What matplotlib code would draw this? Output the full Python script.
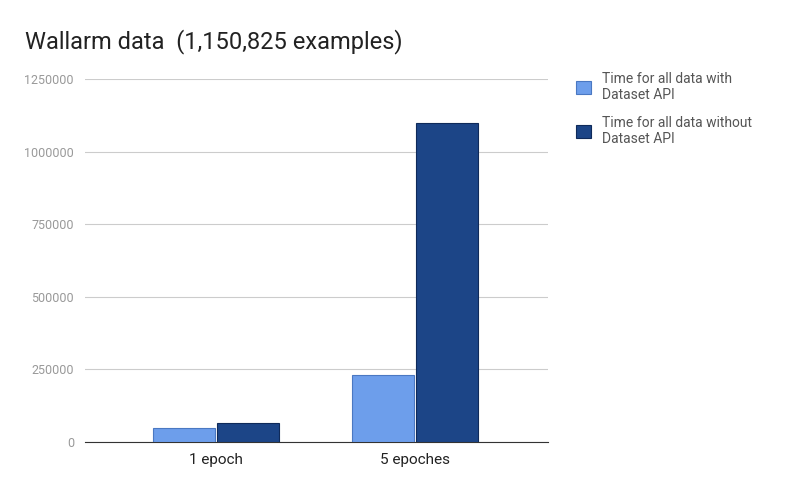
import matplotlib.pyplot as plt
import numpy as np

plt.rcParams['font.family'] = ['Roboto', 'DejaVu Sans']

categories = ["1 epoch", "5 epoches"]
with_api = [48000, 231000]
without_api = [65000, 1098000]
yticks = [0, 250000, 500000, 750000, 1000000, 1250000]

fig = plt.figure(figsize=(8, 4.95), dpi=100)
ax = fig.add_axes([85/800, 1 - 442/495, 463/800, 363/495])

x = np.arange(len(categories))
w = 0.31
ax.bar(x - w/2 - 0.005, with_api, w, color="#6d9eeb", edgecolor="#4a78c2", linewidth=0.8,
       label="Time for all data with\nDataset API", zorder=3)
ax.bar(x + w/2 + 0.005, without_api, w, color="#1c4587", edgecolor="#0f2a5a", linewidth=0.8,
       label="Time for all data without\nDataset API", zorder=3)

ax.set_xlim(-0.658, 1.668)
ax.set_ylim(0, 1250000)
ax.set_yticks(yticks)
ax.set_yticklabels([str(t) for t in yticks], color="#999999", fontsize=9)
ax.set_xticks(x)
ax.set_xticklabels(categories, fontsize=11, color="#222222")
ax.tick_params(length=0, pad=8)
ax.grid(axis="y", color="#cccccc", linewidth=0.8, zorder=0)
for s in ["top", "right", "left"]:
    ax.spines[s].set_visible(False)
ax.spines["bottom"].set_color("#333333")

fig.text(25/800, 1 - 42/495, "Wallarm data  (1,150,825 examples)", fontsize=17, color="#222222", va="center")
fig.legend(loc="upper left", bbox_to_anchor=(570/800, 1 - 66/495), frameon=False,
           fontsize=10, labelcolor="#555555", handlelength=1.1, handleheight=1.1,
           labelspacing=1.0, borderaxespad=0)

fig.savefig("out.png", dpi=100)
